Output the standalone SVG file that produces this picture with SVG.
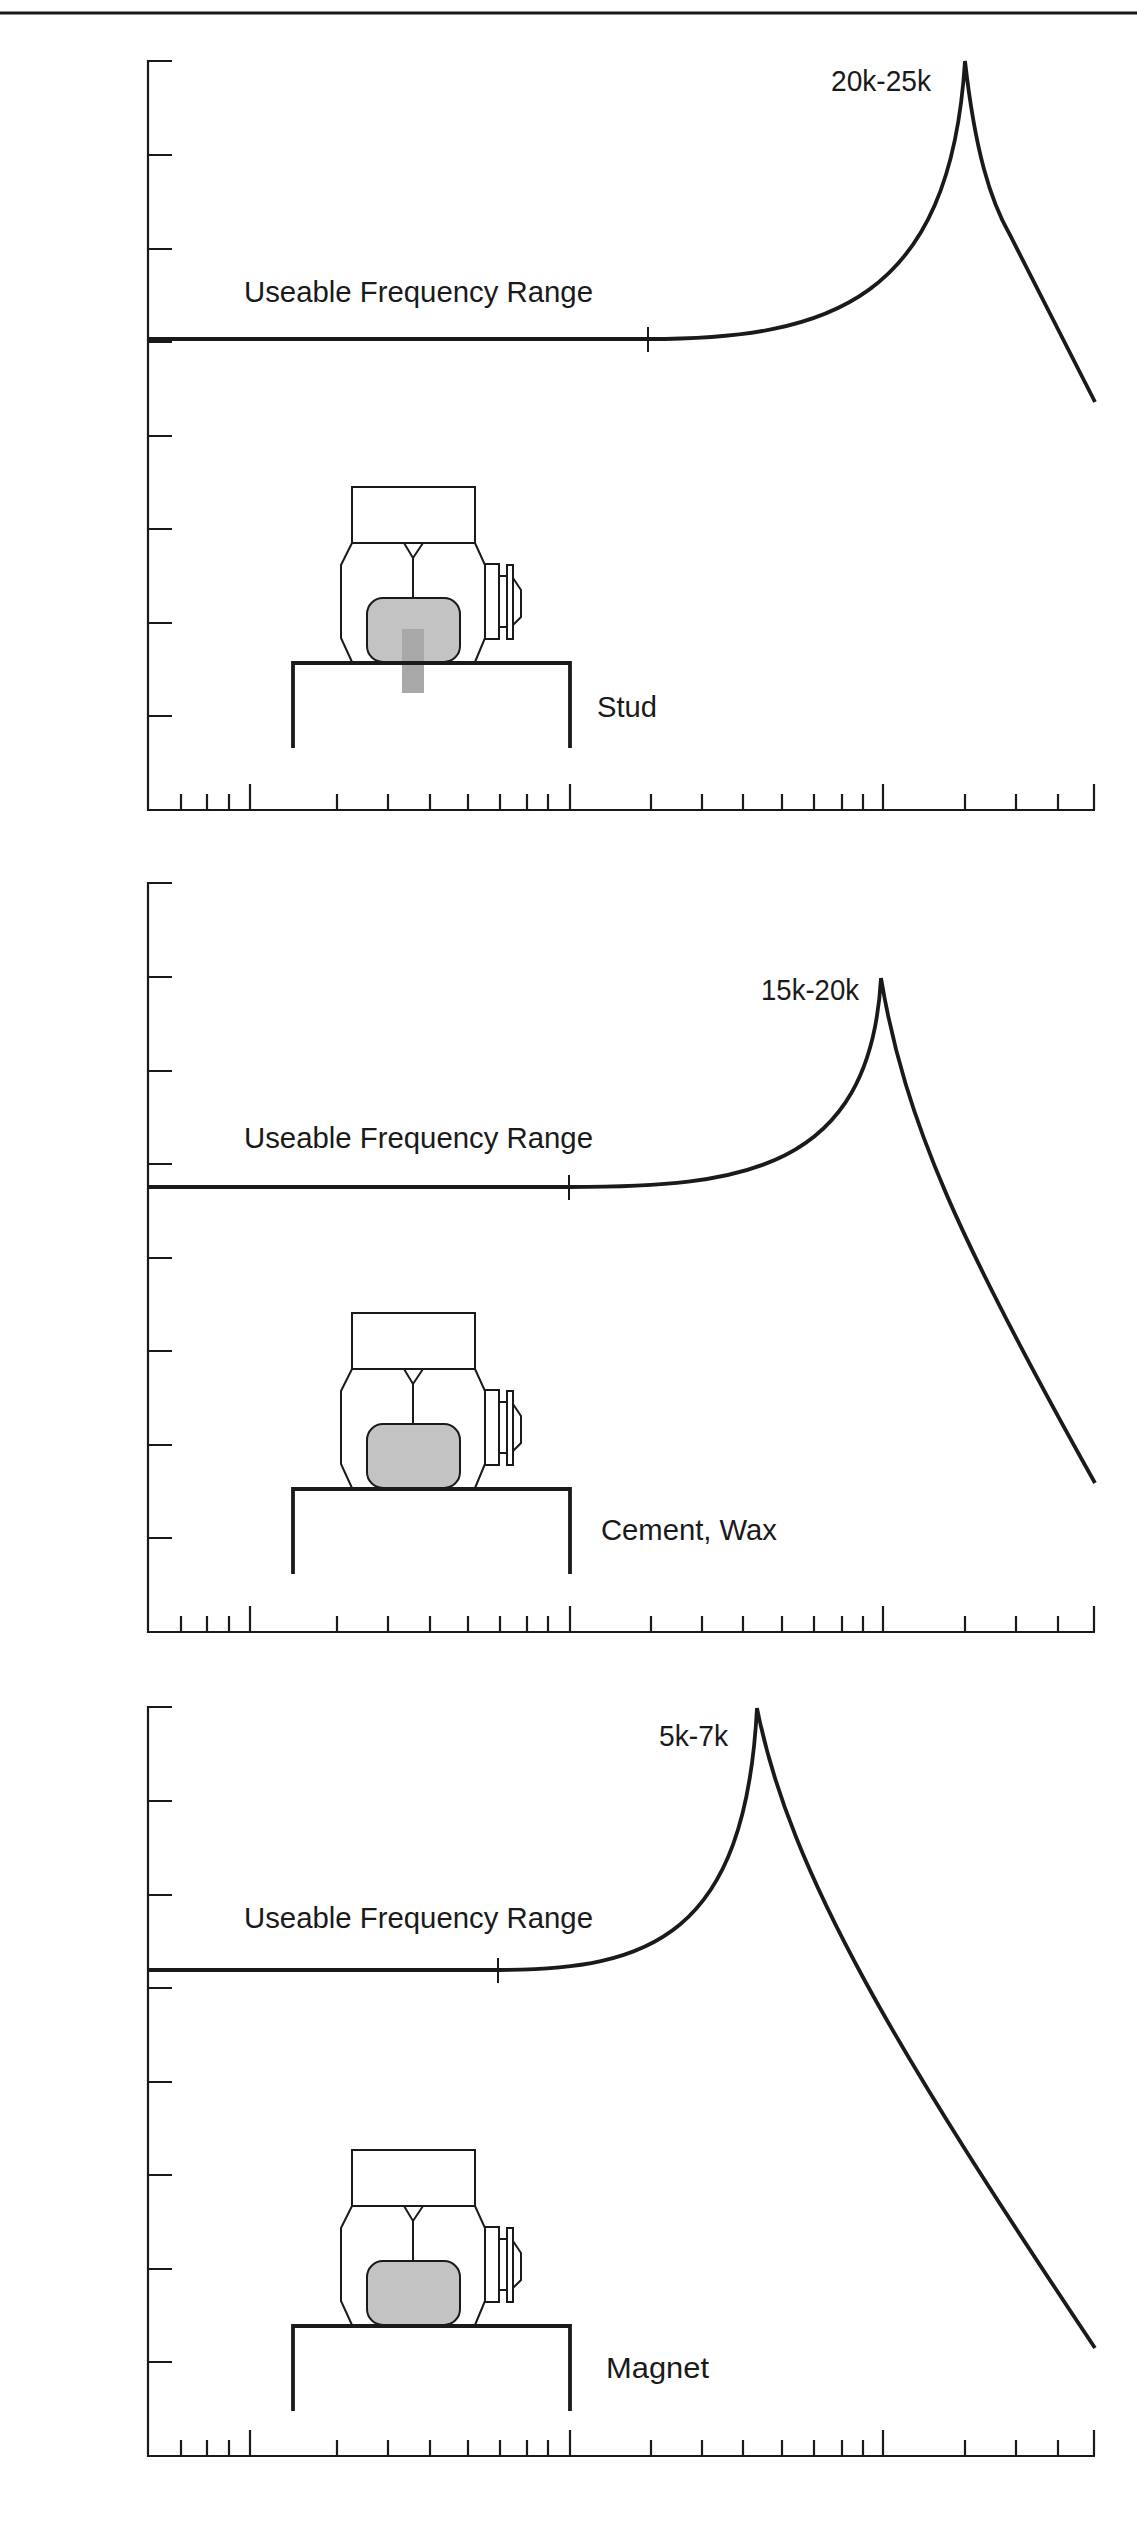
<svg xmlns="http://www.w3.org/2000/svg" width="1137" height="2522" viewBox="0 0 1137 2522">
<style>
.ax{fill:none;stroke:#1a1a1a;stroke-width:2.2}
.cv{fill:none;stroke:#1a1a1a;stroke-width:3.8}
.ln{fill:none;stroke:#1a1a1a;stroke-width:2}
.pl{fill:none;stroke:#1a1a1a;stroke-width:3.8}
text{font-family:"Liberation Sans",Arial,sans-serif;font-size:29px;fill:#1a1a1a}
</style>
<defs>
<g id="axes">
<path class="ax" d="M172 61H148V810H1095M148 155H172M148 249H172M148 342H172M148 436H172M148 529H172M148 623H172M148 716H172"/>
<path class="ax" d="M181 810v-16M207 810v-16M229 810v-16M250 810v-26M337 810v-16M388 810v-16M430 810v-16M468 810v-16M500 810v-16M527 810v-16M548 810v-16M570 810v-26M651 810v-16M702 810v-16M743 810v-16M782 810v-16M814 810v-16M842 810v-16M863 810v-16M883 810v-26M965 810v-16M1016 810v-16M1058 810v-16M1094 810v-26"/>
</g>
<g id="sensor">
<rect class="ln" x="352" y="487" width="123" height="56" fill="#fff"/>
<path class="ln" d="M352 543L341 565V638L352 662M475 543L485 565V638L475 662"/>
<path class="ln" d="M404 543L413 558L423 543M413 558V598"/>
<rect x="367" y="598" width="93" height="64" rx="16" fill="#c3c3c3" stroke="#1a1a1a" stroke-width="2"/>
<rect class="ln" x="485" y="564" width="14" height="75" fill="#fff"/>
<rect class="ln" x="499" y="576" width="8" height="51" fill="#fff"/>
<rect class="ln" x="507" y="565" width="6" height="74" fill="#fff"/>
<path class="ln" d="M513 578L521 590V617L513 625"/>
</g>
<path id="plate" class="pl" d="M293 748V663H570V748"/>
</defs>
<path d="M0 13H1137" stroke="#1a1a1a" stroke-width="3"/>

<g id="panel1">
<use href="#axes"/>
<use href="#sensor"/>
<rect x="402" y="629" width="22" height="64" fill="#a8a8a8"/>
<use href="#plate"/>
<g id="curve1"><path class="cv" d="M148 339H648C830 339 950 300 965 61C975 150 990 200 1010 235L1095 402"/><path class="ln" d="M648 327V352"/></g>
<text x="244" y="302" textLength="349" lengthAdjust="spacingAndGlyphs">Useable Frequency Range</text>
<text x="831" y="91" textLength="100" lengthAdjust="spacingAndGlyphs">20k-25k</text>
<text x="597" y="717" textLength="60" lengthAdjust="spacingAndGlyphs">Stud</text>
</g>

<g id="panel2" transform="translate(0 822)">
<use href="#axes"/>
<use href="#sensor" transform="translate(0 4)"/>
<use href="#plate" transform="translate(0 4)"/>
<g id="curve2"><path class="cv" d="M148 365H569C740 365 870 350 881 156C905 300 960 420 1095 661"/><path class="ln" d="M569 353V378"/></g>
<text x="244" y="326" textLength="349" lengthAdjust="spacingAndGlyphs">Useable Frequency Range</text>
<text x="761" y="178" textLength="98" lengthAdjust="spacingAndGlyphs">15k-20k</text>
<text x="601" y="718" textLength="176" lengthAdjust="spacingAndGlyphs">Cement, Wax</text>
</g>

<g id="panel3" transform="translate(0 1646)">
<use href="#axes"/>
<use href="#sensor" transform="translate(0 17)"/>
<use href="#plate" transform="translate(0 17)"/>
<g id="curve3"><path class="cv" d="M148 324H498C650 324 745 290 757 62C790 230 900 410 1095 702"/><path class="ln" d="M498 312V337"/></g>
<text x="244" y="282" textLength="349" lengthAdjust="spacingAndGlyphs">Useable Frequency Range</text>
<text x="659" y="100" textLength="69" lengthAdjust="spacingAndGlyphs">5k-7k</text>
<text x="606" y="732" textLength="103" lengthAdjust="spacingAndGlyphs">Magnet</text>
</g>
</svg>
